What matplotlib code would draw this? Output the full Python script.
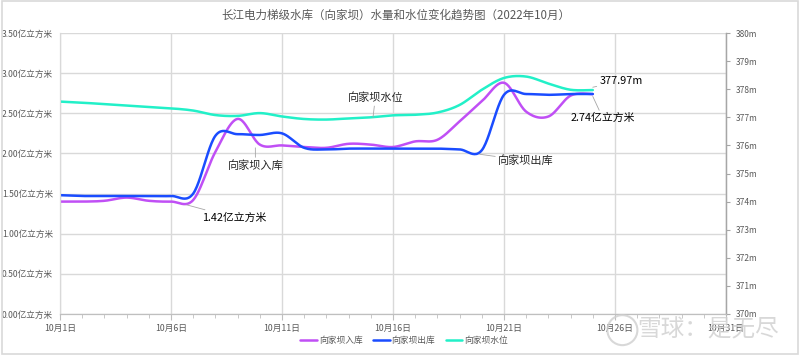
import numpy as np
import matplotlib
matplotlib.use('Agg')
import matplotlib.pyplot as plt
from matplotlib.patches import Rectangle, Ellipse

plt.rcParams['font.family'] = ['Noto Sans CJK SC', 'DejaVu Sans']

##### data (Oct 2022)
days = list(range(1, 26))
inflow = [1.40, 1.40, 1.41, 1.45, 1.41, 1.40, 1.42, 2.02, 2.43, 2.11,
          2.10, 2.08, 2.07, 2.12, 2.11, 2.08, 2.15, 2.17, 2.40, 2.65,
          2.88, 2.52, 2.46, 2.72, 2.74]
outflow = [1.48, 1.47, 1.47, 1.47, 1.47, 1.47, 1.50, 2.22, 2.24, 2.23,
           2.25, 2.07, 2.05, 2.06, 2.06, 2.06, 2.06, 2.06, 2.05, 2.04,
           2.73, 2.74, 2.73, 2.74, 2.74]
level = [377.56, 377.52, 377.47, 377.42, 377.37, 377.32, 377.24, 377.08, 377.05, 377.15,
         377.03, 376.94, 376.92, 376.96, 377.00, 377.07, 377.09, 377.17, 377.44, 377.98,
         378.40, 378.45, 378.20, 377.98, 377.97]
names = ['向家坝入库', '向家坝出库', '向家坝水位']
colors = ['#c04ff5', '#1a4cff', '#22f0c8']
xticks = [1, 6, 11, 16, 21, 26, 31]
xlabels = [f'10月{d}日' for d in xticks]
yticks = np.arange(0, 3.51, 0.5)
rticks = list(range(370, 381))


def smooth(x, y, n=24):
    # excel-like smoothed line (bezier through the points)
    x = np.asarray(x, float)
    y = np.asarray(y, float)
    px = np.concatenate([[x[0]], x, [x[-1]]])
    py = np.concatenate([[y[0]], y, [y[-1]]])
    t = np.linspace(0, 1, n, endpoint=False)[:, None]
    out_x, out_y = [], []
    for i in range(1, len(px) - 2):
        p0 = np.array([px[i], py[i]])
        p3 = np.array([px[i + 1], py[i + 1]])
        p1 = p0 + (np.array([px[i + 1], py[i + 1]]) - np.array([px[i - 1], py[i - 1]])) / 6
        p2 = p3 - (np.array([px[i + 2], py[i + 2]]) - np.array([px[i], py[i]])) / 6
        b = ((1 - t) ** 3) * p0 + 3 * ((1 - t) ** 2) * t * p1 + 3 * (1 - t) * t ** 2 * p2 + t ** 3 * p3
        out_x.append(b[:, 0])
        out_y.append(b[:, 1])
    out_x.append([x[-1]])
    out_y.append([y[-1]])
    return np.concatenate(out_x), np.concatenate(out_y)


fig = plt.figure(figsize=(8, 3.55), dpi=100)
ax = fig.add_axes([0.075, 0.1155, 0.8325, 0.7915])
ax2 = ax.twinx()

grid_c = '#d9d9d9'
lab_c = '#595959'

sx, sy = smooth(days, inflow)
l1, = ax.plot(sx, sy, color=colors[0], lw=1.8, label=names[0], solid_capstyle='round')
sx, sy = smooth(days, outflow)
l2, = ax.plot(sx, sy, color=colors[1], lw=1.8, label=names[1], solid_capstyle='round')
sx, sy = smooth(days, level)
l3, = ax2.plot(sx, sy, color=colors[2], lw=1.8, label=names[2], solid_capstyle='round')

ax.set_xlim(1, 31)
ax.set_ylim(0, 3.5)
ax2.set_ylim(370, 380)

ax.set_xticks(xticks)
ax.set_xticklabels(xlabels, fontsize=6.3, color=lab_c)
ax.set_xticks(range(1, 32), minor=True)
ax.set_yticks(yticks)
ax.set_yticklabels([f'{v:.2f}亿立方米' for v in yticks], fontsize=6.2, color=lab_c)
ax2.set_yticks(rticks)
ax2.set_yticklabels([f'{v}m' for v in rticks], fontsize=6, color=lab_c)

ax.grid(True, which='major', color=grid_c, lw=1)
ax.tick_params(axis='y', length=0, pad=5)
ax.tick_params(axis='x', which='major', length=4, color='#bfbfbf', pad=3)
ax.tick_params(axis='x', which='minor', length=3, color='#bfbfbf')
ax2.tick_params(axis='y', length=3, color='#a6a6a6', pad=4)
for a in (ax, ax2):
    a.spines['top'].set_visible(False)
    a.spines['left'].set_color(grid_c)
    a.spines['bottom'].set_color('#bfbfbf')
    a.spines['right'].set_color('#a6a6a6')
ax2.spines['right'].set_linewidth(1)

fig.text(0.495, 0.956, '长江电力梯级水库（向家坝）水量和水位变化趋势图（2022年10月）',
         ha='center', va='center', fontsize=8.3, color=lab_c)

# data labels with leader lines
lead = dict(arrowstyle='-', color='#a6a6a6', lw=0.6, shrinkA=0, shrinkB=0)
ax2.annotate(names[2], xy=(days[14] + 0.1, level[14]), xytext=(13.95, 377.69),
             fontsize=8, color='#262626', ha='left', va='center', arrowprops=lead)
ax.annotate(names[0], xy=(days[9] - 0.2, inflow[9] - 0.04), xytext=(8.55, 1.85),
            fontsize=8, color='#262626', ha='left', va='center', arrowprops=lead)
ax.annotate('1.42亿立方米', xy=(days[6] - 0.3, 1.36), xytext=(7.4, 1.2),
            fontsize=7.8, color='#000000', ha='left', va='center', arrowprops=lead)
ax.annotate(names[1], xy=(days[19] - 0.1, 1.99), xytext=(20.73, 1.91),
            fontsize=8, color='#262626', ha='left', va='center', arrowprops=lead)
ax2.annotate('377.97m', xy=(days[-1], level[-1] + 0.1), xytext=(25.3, 378.29),
             fontsize=7.8, color='#000000', ha='left', va='center', arrowprops=lead)
ax.annotate('2.74亿立方米', xy=(days[-1], outflow[-1] - 0.03), xytext=(24.0, 2.44),
            fontsize=7.8, color='#000000', ha='left', va='center', arrowprops=lead)

fig.legend(handles=[l1, l2, l3], loc='center', bbox_to_anchor=(0.505, 0.042), ncol=3,
           frameon=False, fontsize=6.3, handlelength=1.9, handletextpad=0.2,
           columnspacing=1.2, labelcolor=lab_c)

# watermark
fig.text(0.885, 0.07, '雪球：是无尽', ha='center', va='center', fontsize=17,
         color='#cfcfcf', alpha=0.8, zorder=10)
fig.patches.append(Ellipse((0.778, 0.07), 30 / 800, 30 / 355, transform=fig.transFigure,
                           fill=False, edgecolor='#cfcfcf', lw=1.5, alpha=0.8, zorder=10))

fig.patches.append(Rectangle((0.002, 0.003), 0.996, 0.994, transform=fig.transFigure,
                             fill=False, edgecolor='#d9d9d9', lw=1.2))

fig.savefig('out.png', dpi=100)
